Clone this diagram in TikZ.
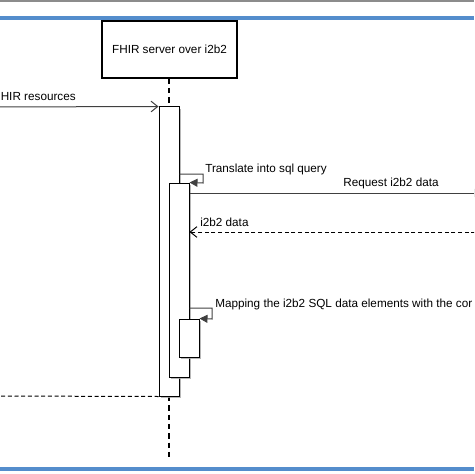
\documentclass[tikz,border=0pt]{standalone}
\usepackage{fontspec}
\setmainfont{Liberation Sans}
\usetikzlibrary{arrows.meta,shadows}

\definecolor{frameblue}{RGB}{84,141,204}
\definecolor{framegray}{RGB}{140,140,140}

\tikzset{
  lifebox/.style={draw, line width=0.9pt, fill=white, minimum width=101.25pt, minimum height=42.75pt, inner sep=0pt},
  actbar/.style={draw, line width=0.75pt, fill=white, minimum width=15pt, inner sep=0pt,
    drop shadow={shadow xshift=1.5pt, shadow yshift=-1.5pt, fill=black!35, opacity=0.8}},
  lifeline/.style={line width=0.9pt, dash pattern=on 4pt off 3pt},
  msg/.style={line width=0.75pt, draw=black!75},
  retmsg/.style={line width=0.75pt, dash pattern=on 3pt off 2pt},
  lbl/.style={inner sep=0.75pt, font=\fontsize{8.8}{10}\selectfont},
}

\begin{document}
\begin{tikzpicture}[x=0.75pt,y=0.75pt,yscale=-1,xscale=1]
\useasboundingbox (0,0) rectangle (474,474);
\clip (0,0) rectangle (474,474);

%Frame Lines
\draw [framegray, line width=1.5pt] (0,1) -- (474,1) ;
\draw [frameblue, line width=3pt] (0,18) -- (474,18) ;
\draw [frameblue, line width=3pt] (0,468.5) -- (474,468.5) ;

%Lifeline head
\node (srv) [lifebox, lbl] at (169.5,49.5) {FHIR server over i2b2};
\coordinate (lifeend) at (169,460);
\draw [lifeline] (srv.south -| lifeend) -- (lifeend) ;

%Activation bars
\node (act1) [actbar, minimum height=216.75pt] at (169,251.5) {};
\node (act2) [actbar, minimum height=145.5pt] at (179,280) {};
\node (act3) [actbar, minimum height=28.5pt] at (189,338) {};

%Free ends
\coordinate (clientin) at (-6,107);
\coordinate (clientout) at (-6,396);
\coordinate (dbin) at (482,193);
\coordinate (dbout) at (482,232);

%Straight Lines
\draw [msg, -{Straight Barb[length=5pt,width=8pt]}] (clientin) -- (act1.north west) ;
\draw [msg, -{Triangle[length=6pt,width=6pt]}] (act1.east |- 0,174) -| (203,183) -- (act2.north east) ;
\draw [msg, -{Triangle[length=6pt,width=6pt]}] (act2.east |- 0,193) -- (dbin) ;
\draw [retmsg, -{Straight Barb[length=5pt,width=8pt]}] (dbout) -- (act2.east |- 0,232) ;
\draw [msg, -{Triangle[length=6pt,width=6pt]}] (act2.east |- 0,308) -| (212,319) -- (act3.north east) ;
\draw [retmsg] (act1.south west) -- (clientout) ;

% Text Node
\node (lblres) [lbl, anchor=west] at (-0.5,97) {HIR resources};
\node (lbltrans) [lbl, anchor=west] at (204,169) {Translate into sql query};
\node (lblreq) [lbl] at (391,183) {Request i2b2 data};
\node (lbldata) [lbl, anchor=west] at (199,222) {i2b2 data};
\node (lblmap) [lbl, anchor=west] at (214,304) {Mapping the i2b2 SQL data elements with the cor};

\end{tikzpicture}
\end{document}
